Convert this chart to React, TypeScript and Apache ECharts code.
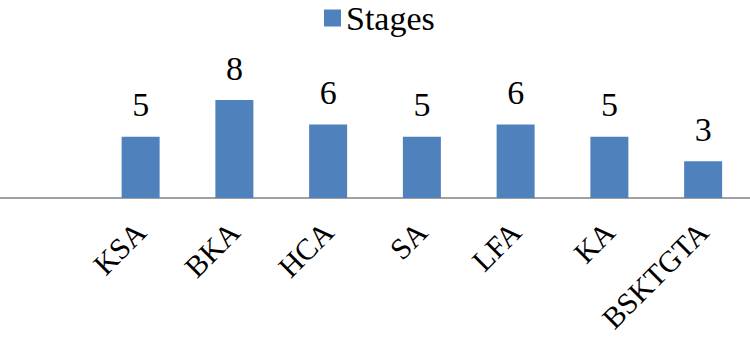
import React, { useEffect, useRef } from "react";
import * as echarts from "echarts";

const categories = ["", "KSA", "BKA", "HCA", "SA", "LFA", "KA", "BSKTGTA"];
const stages: (number | null)[] = [null, 5, 8, 6, 5, 6, 5, 3];
const seriesName = "Stages";

const FONT = "Liberation Serif";

export default function App() {
  const ref = useRef<HTMLDivElement>(null);
  useEffect(() => {
    document.body.style.margin = "0";
    if (!ref.current) return;
    const chart = echarts.init(ref.current, undefined, { renderer: "svg" });
    chart.setOption({
      animation: false,
      backgroundColor: "#ffffff",
      textStyle: { fontFamily: FONT },
      legend: {
        data: [seriesName],
        top: 1,
        left: 324,
        padding: 0,
        itemWidth: 17,
        itemHeight: 17,
        itemGap: 6,
        icon: "rect",
        textStyle: { fontFamily: FONT, fontSize: 34, color: "#000" },
      },
      grid: {
        left: 0,
        right: 0,
        top: 100,
        bottom: 140,
        containLabel: false,
        outerBoundsMode: "none",
      },
      xAxis: {
        type: "category",
        data: categories,
        axisTick: { show: false },
        axisLine: { lineStyle: { color: "#A0A0A0", width: 2 } },
        axisLabel: {
          rotate: 45,
          margin: 29,
          interval: 0,
          fontFamily: FONT,
          fontSize: 30,
          color: "#000",
        },
      },
      yAxis: {
        type: "value",
        min: 0,
        max: 8,
        show: false,
        splitLine: { show: false },
      },
      series: [
        {
          name: seriesName,
          type: "bar",
          data: stages,
          barWidth: 38,
          itemStyle: { color: "#4F81BD" },
          label: {
            show: true,
            position: "top",
            distance: 15,
            fontFamily: FONT,
            fontSize: 34,
            color: "#000",
          },
        },
      ],
    });
    return () => chart.dispose();
  }, []);
  return <div ref={ref} style={{ width: 750, height: 338 }} />;
}
